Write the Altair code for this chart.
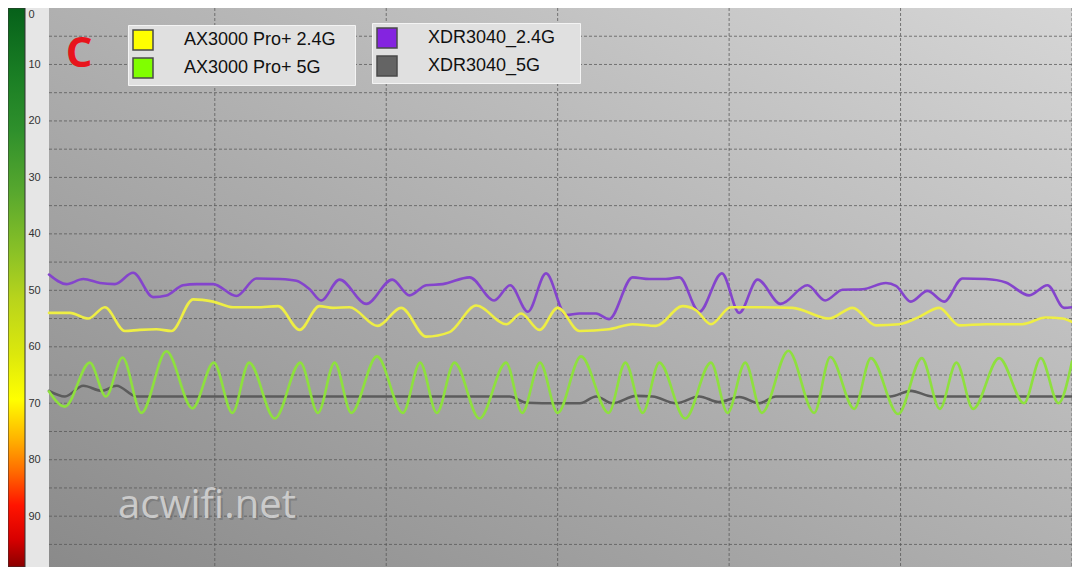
import altair as alt
import pandas as pd

# ---------------- data ----------------
series_names = ["AX3000 Pro+ 2.4G", "AX3000 Pro+ 5G", "XDR3040_2.4G", "XDR3040_5G"]
line_colors = ["#eeee44", "#8ee03e", "#8444cc", "#5c5c5c"]
legend_colors = ["#ffff00", "#80ff00", "#8424e0", "#646464"]

xdr5_t = [0.33, 1.26, 2.33, 3.39, 4.27, 5.43, 8, 12, 16, 20, 24, 27.2, 28.2, 30, 31.3,
          32.24, 33.2, 34.57, 35.54, 36.9, 38.26, 39.4, 40.59, 41.75, 42.73, 45, 49.4,
          50.6, 51.86, 55, 60]
xdr5_v = [67.8, 68.8, 66.9, 67.8, 66.9, 68.8, 68.8, 68.8, 68.8, 68.8, 68.8, 68.8, 69.9,
          70.0, 70.0, 68.8, 70.0, 68.7, 68.8, 70.0, 68.8, 69.8, 68.9, 70.0, 68.8, 68.8,
          68.8, 67.8, 68.8, 68.8, 68.8]

xdr24_t = [0.33, 1.35, 2.33, 3.3, 4.17, 5.24, 6.4, 7.18, 8.15, 8.93, 9.9, 11.26, 12.43,
           13.8, 14.76, 15.53, 16.2, 17.28, 18.84, 20.35, 21.36, 22.33, 23.3, 24.86,
           26.3, 27.23, 28.26, 29.32, 30.49, 31.27, 32.24, 33.0, 34.37, 35.35, 36.3,
           37.1, 38.26, 39.58, 40.59, 41.66, 43.0, 44.57, 45.6, 46.62, 47.79, 49.15,
           49.73, 50.6, 51.57, 52.54, 53.61, 54.97, 56.14, 57.5, 58.57, 59.54, 60.0]
xdr24_v = [47.2, 48.9, 48.0, 48.7, 48.9, 46.9, 51.2, 50.9, 49.1, 48.9, 48.9, 51.0, 47.9,
           48.0, 48.3, 49.8, 51.8, 48.1, 52.4, 48.1, 50.9, 49.1, 48.9, 47.7, 51.8, 49.1,
           53.8, 47.0, 54.4, 54.1, 54.1, 55.1, 47.7, 48.0, 48.0, 47.7, 53.8, 47.0, 54.0,
           48.1, 52.4, 49.1, 51.8, 49.9, 49.8, 48.7, 49.2, 52.0, 50.1, 52.0, 47.9, 48.0,
           48.6, 50.9, 49.1, 53.1, 53.0]

ax24_t = [0.33, 1.55, 2.62, 3.59, 4.75, 5.63, 6.6, 7.47, 8.74, 9.9, 11.07, 12.43, 13.69,
          14.95, 16.1, 16.89, 17.86, 19.5, 20.87, 22.33, 23.69, 25.25, 27.0, 27.87,
          28.94, 30.0, 31.27, 33.0, 34.37, 35.73, 37.29, 38.06, 38.94, 40.1, 41.75,
          43.7, 45.84, 47.2, 48.56, 49.92, 51.09, 52.25, 53.42, 54.97, 57.1, 58.47,
          59.44, 60.0]
ax24_v = [54.0, 54.0, 55.0, 53.0, 57.2, 57.0, 56.9, 57.2, 51.6, 52.0, 53.0, 53.0, 52.8,
          57.0, 52.8, 53.1, 53.0, 56.3, 53.1, 58.2, 57.4, 52.7, 56.0, 54.1, 57.0, 53.1,
          57.2, 56.9, 56.0, 56.3, 52.8, 53.5, 56.0, 53.0, 53.0, 53.1, 55.0, 53.1, 56.2,
          56.0, 54.7, 53.1, 56.2, 56.0, 56.0, 54.8, 55.0, 55.6]

ax5_t = [0.33, 1.26, 2.71, 3.65, 4.62, 5.72, 7.18, 8.7, 9.94, 11.03, 12.0, 13.5, 14.99,
         16.02, 16.99, 17.96, 19.46, 20.97, 21.98, 22.95, 23.98, 25.44, 26.99, 27.93,
         28.97, 30.0, 31.36, 32.97, 33.95, 34.96, 35.93, 37.44, 38.94, 39.91, 40.94,
         41.91, 43.46, 44.96, 45.9, 47.3, 48.27, 49.86, 51.24, 52.29, 53.26, 54.23,
         55.75, 57.2, 58.18, 59.21, 60.0]
ax5_v = [67.9, 70.6, 62.8, 68.8, 61.9, 71.7, 60.8, 70.9, 62.8, 71.7, 62.8, 72.7, 62.8,
         71.7, 62.8, 71.7, 61.7, 71.7, 62.8, 71.7, 62.8, 72.7, 62.8, 71.7, 62.8, 71.7,
         61.7, 71.7, 62.8, 71.7, 62.8, 72.7, 62.8, 71.7, 62.8, 71.7, 60.7, 71.7, 61.8,
         71.0, 62.0, 71.9, 62.0, 71.0, 62.8, 71.0, 62.0, 70.0, 62.0, 70.0, 62.6]

y_tick_labels = [0, 10, 20, 30, 40, 50, 60, 70, 80, 90]
h_grid = [5, 10, 15, 20, 25, 30, 35, 40, 45, 50, 55, 60, 65, 70, 75, 80, 85, 90, 95]
v_grid = [10, 20, 30, 40, 50, 60]
panel_label = ["C"]
watermark = ["acwifi.net"]

# ---------------- build tables ----------------
rows = []
for name, ts, vs in [("XDR3040_5G", xdr5_t, xdr5_v), ("XDR3040_2.4G", xdr24_t, xdr24_v),
                     ("AX3000 Pro+ 2.4G", ax24_t, ax24_v), ("AX3000 Pro+ 5G", ax5_t, ax5_v)]:
    for t, v in zip(ts, vs):
        rows.append({"series": name, "t": t, "v": v})
df = pd.DataFrame(rows)

W, H = 1023, 559
xs = alt.Scale(domain=[0.33, 60], nice=False, zero=False)
ys = alt.Scale(domain=[0, 99], reverse=True, nice=False, zero=False)
yaxis = alt.Axis(
    values=y_tick_labels, labelAlign="left", labelPadding=21,
    ticks=False, tickSize=0, domain=False, grid=False, title=None, labelFontSize=11,
    labelFont="Liberation Sans", labelColor="#333333", labelOverlap=False,
    labelFlush=True)

bg = alt.Chart(pd.DataFrame({"a": [0]})).mark_rect(
    fill=alt.Gradient(gradient="linear", x1=0, y1=1, x2=1, y2=0,
                      stops=[alt.GradientStop(color="#8a8a8a", offset=0),
                             alt.GradientStop(color="#d6d6d6", offset=1)])
).encode(x=alt.value(0), x2=alt.value(W), y=alt.value(0), y2=alt.value(H))

hgrid = alt.Chart(pd.DataFrame({"v": h_grid})).mark_rule(
    color="#555555", strokeWidth=1, strokeDash=[3, 2], opacity=0.75
).encode(y=alt.Y("v:Q", scale=ys, axis=yaxis))

vgrid = alt.Chart(pd.DataFrame({"t": v_grid})).mark_rule(
    color="#555555", strokeWidth=1, strokeDash=[3, 2], opacity=0.75
).encode(x=alt.X("t:Q", scale=xs, axis=None))

cbar = alt.Chart(pd.DataFrame({"a": [0]})).mark_rect(
    fill=alt.Gradient(gradient="linear", x1=0, y1=0, x2=0, y2=1, stops=[
        alt.GradientStop(color="#06611a", offset=0.0),
        alt.GradientStop(color="#1a7e24", offset=0.12),
        alt.GradientStop(color="#2f902c", offset=0.22),
        alt.GradientStop(color="#58a82e", offset=0.33),
        alt.GradientStop(color="#8cc226", offset=0.44),
        alt.GradientStop(color="#b8d41c", offset=0.52),
        alt.GradientStop(color="#dce80c", offset=0.62),
        alt.GradientStop(color="#ffff00", offset=0.70),
        alt.GradientStop(color="#ffb400", offset=0.77),
        alt.GradientStop(color="#ff6a00", offset=0.83),
        alt.GradientStop(color="#ff1400", offset=0.89),
        alt.GradientStop(color="#d80000", offset=0.95),
        alt.GradientStop(color="#8a0000", offset=1.0)]),
    stroke="#333333", strokeWidth=1
).encode(x=alt.value(-41), x2=alt.value(-24), y=alt.value(0), y2=alt.value(H))

line_layers = []
for name in ["XDR3040_5G", "XDR3040_2.4G", "AX3000 Pro+ 2.4G", "AX3000 Pro+ 5G"]:
    col = line_colors[series_names.index(name)]
    line_layers.append(
        alt.Chart(df).transform_filter(alt.datum.series == name).mark_line(
            interpolate="monotone", strokeWidth=2.6, color=col, strokeCap="round"
        ).encode(x=alt.X("t:Q", scale=xs, axis=None), y=alt.Y("v:Q", scale=ys, axis=yaxis))
    )

wm_df = pd.DataFrame({"label": watermark})
wm_shadow = alt.Chart(wm_df).mark_text(
    font="Open Sans", fontSize=40, color="#666666", opacity=0.45, align="center",
    baseline="alphabetic"
).encode(text="label:N", x=alt.value(160), y=alt.value(512))
wm_text = alt.Chart(wm_df).mark_text(
    font="Open Sans", fontSize=40, color="#d2d2d2", opacity=0.9, align="center",
    baseline="alphabetic"
).encode(text="label:N", x=alt.value(158), y=alt.value(510))

c_text = alt.Chart(pd.DataFrame({"label": panel_label})).mark_text(
    font="Open Sans", fontWeight="bold", fontSize=42, color="#e8141c", align="center",
    baseline="alphabetic"
).encode(text="label:N", x=alt.value(30), y=alt.value(59))

# legend entries: invisible trailing no-break spaces (+ zero-width space so they are
# not trimmed) only widen the legend boxes
leg_names = ([n + "\u00a0" * 3 + "\u200b" for n in series_names[:2]]
             + [n + "\u00a0" * 4 + "\u200b" for n in series_names[2:]])
leg_df = pd.DataFrame({"series": leg_names})


def legend_props(lx, ly):
    return dict(title=None, orient="none", legendX=lx, legendY=ly, direction="vertical",
                symbolType="square", symbolSize=400, symbolStrokeColor="#4a4a4a",
                symbolStrokeWidth=1.5, symbolOpacity=1, labelFontSize=18,
                labelFont="Liberation Sans", labelColor="#111111", labelOffset=30,
                labelLimit=500, rowPadding=2, padding=4, fillColor="#e0e0e0",
                strokeColor="#f4f4f4")


leg1 = alt.Chart(leg_df).transform_filter("false").mark_square(
    opacity=1, stroke="#4a4a4a", strokeWidth=1.5
).encode(fill=alt.Fill("series:N", scale=alt.Scale(domain=leg_names[:2],
                                                   range=legend_colors[:2]),
                       legend=alt.Legend(**legend_props(79, 17))))

leg2 = alt.Chart(leg_df).transform_filter("false").mark_square(
    opacity=1, filled=True, stroke="#4a4a4a", strokeWidth=1.5
).encode(color=alt.Color("series:N", scale=alt.Scale(domain=leg_names[2:],
                                                     range=legend_colors[2:]),
                         legend=alt.Legend(**legend_props(323, 15))))

chart = alt.layer(bg, hgrid, vgrid, cbar, *line_layers, wm_shadow, wm_text, c_text,
                  leg1, leg2).properties(
    width=W, height=H,
    padding={"left": 41, "top": 0, "right": 0, "bottom": 0},
    autosize=alt.AutoSizeParams(type="none"),
    background="#e6e6e6",
).configure_view(stroke="#555555", strokeWidth=1)

chart.save("out.html", embed_options={"renderer": "svg", "actions": False})
